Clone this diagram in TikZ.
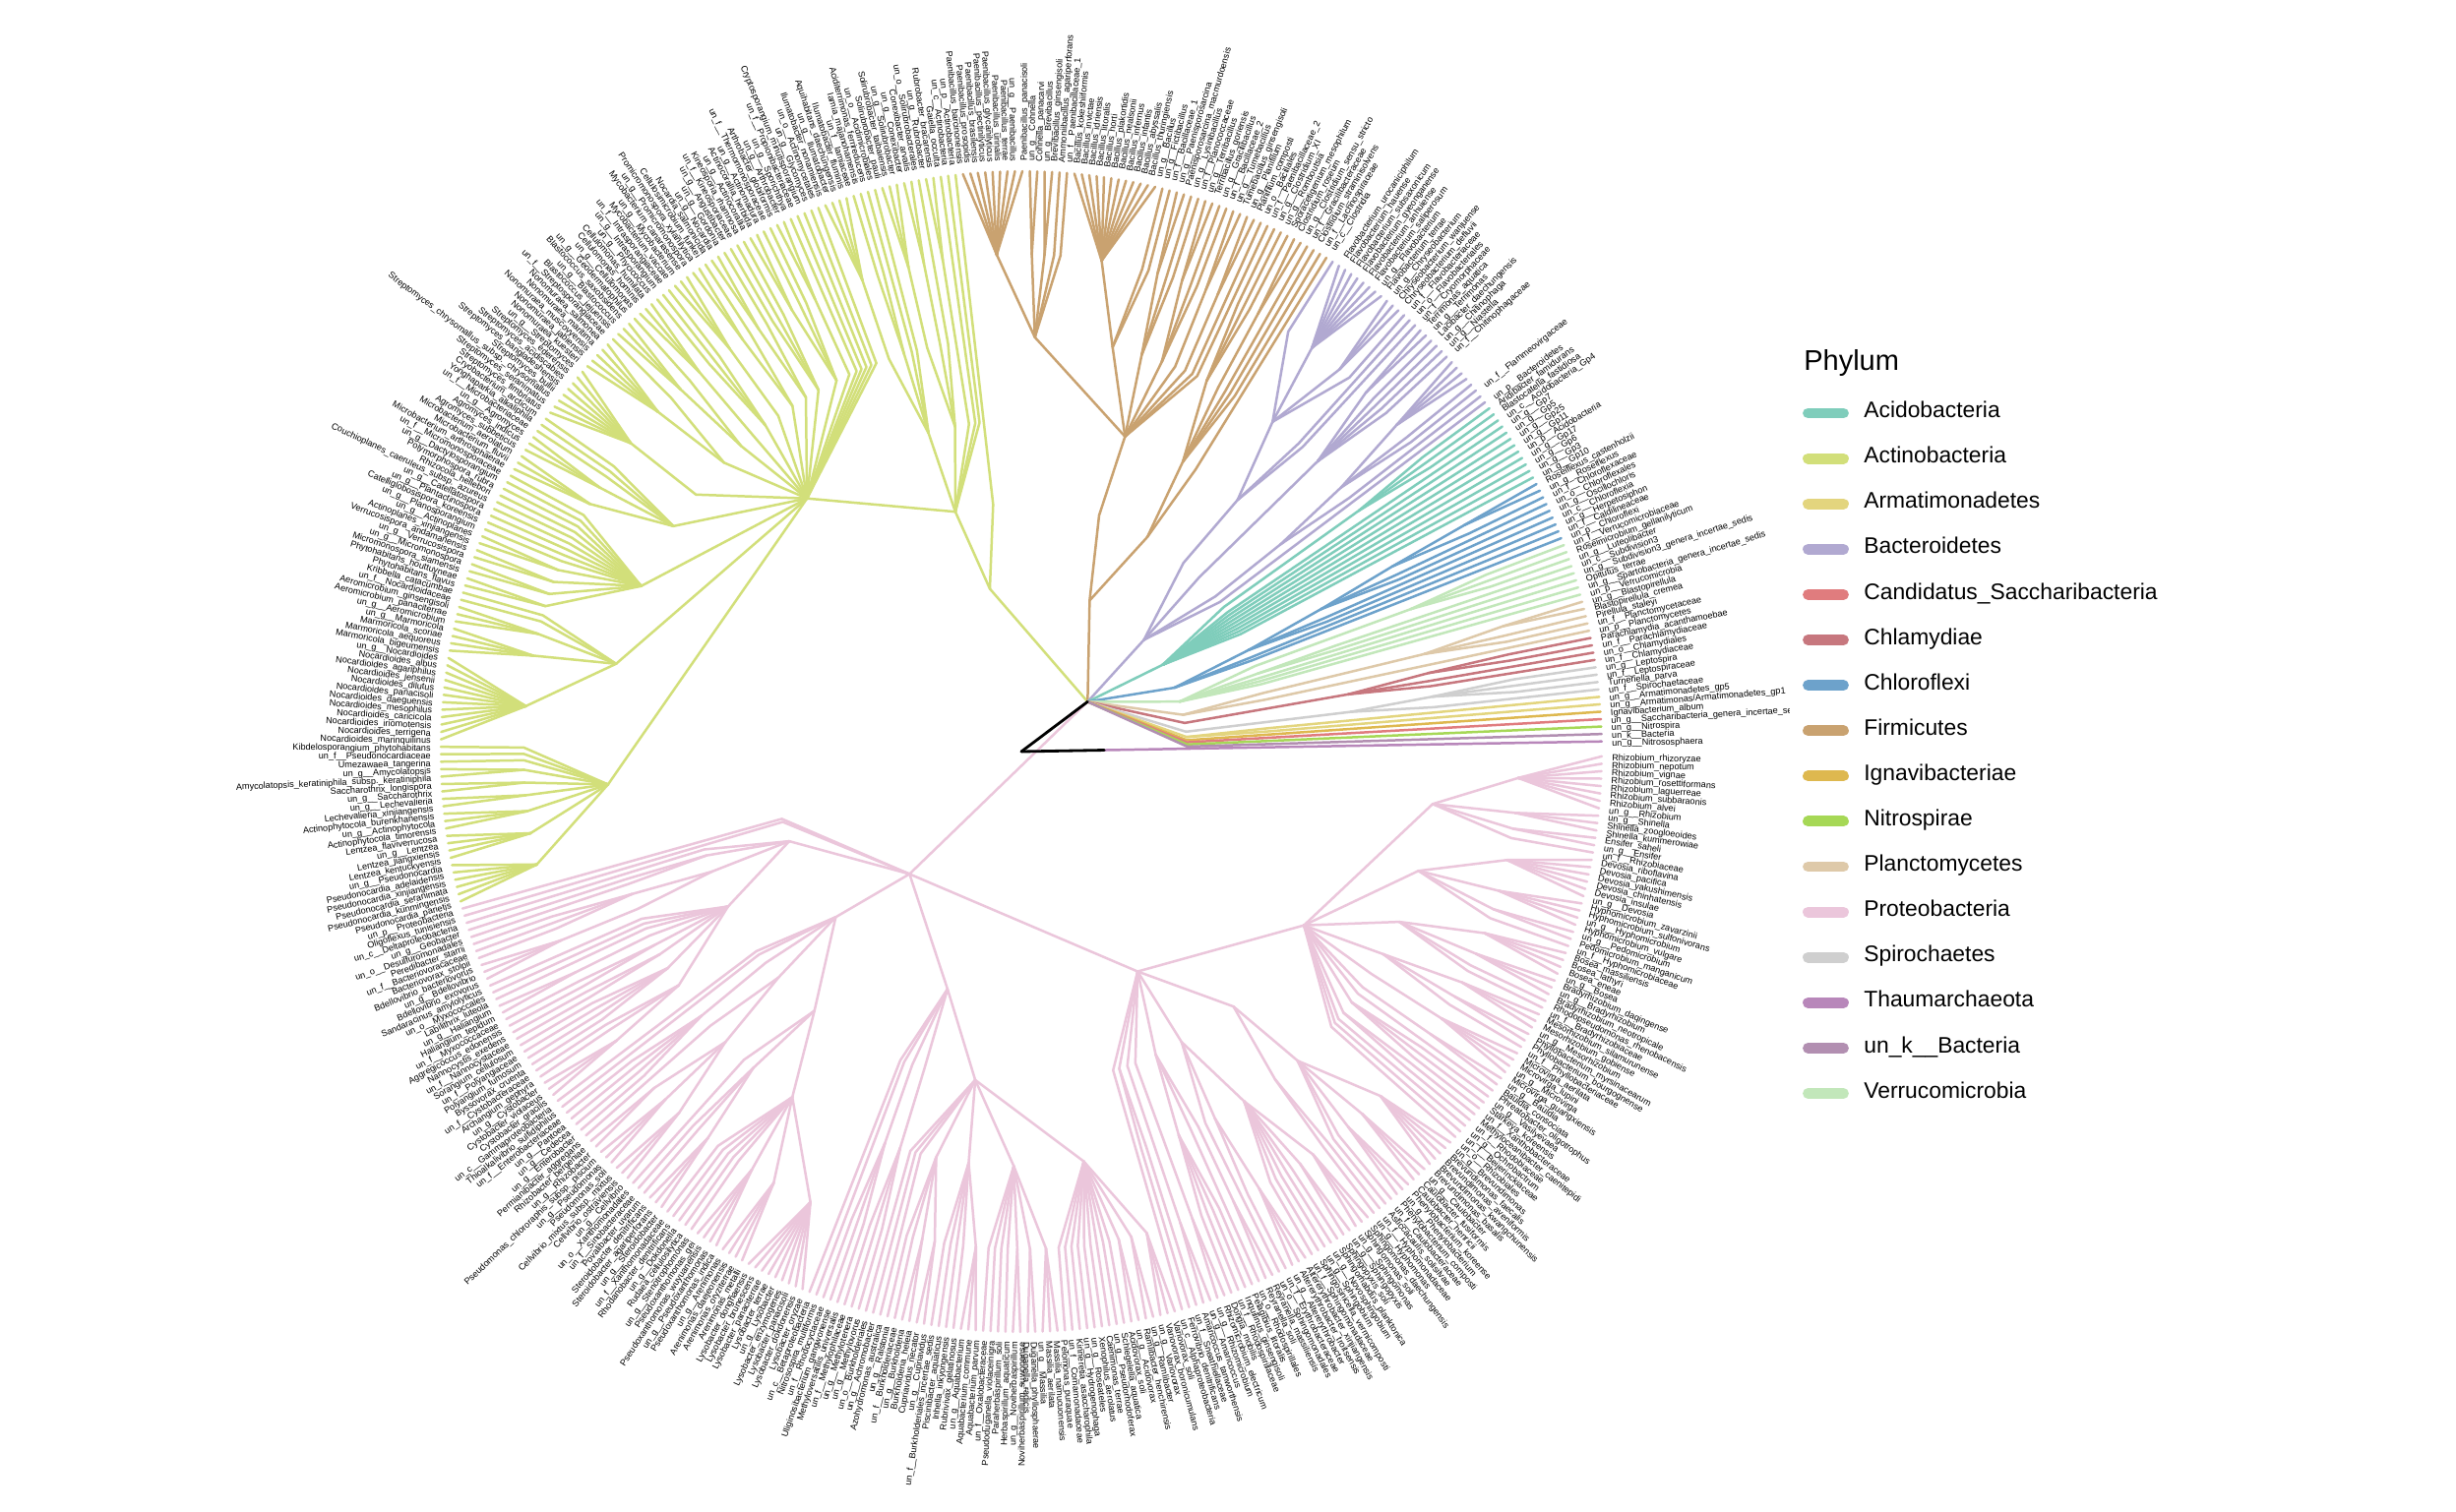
\documentclass[tikz,border=0pt]{standalone}
\usepackage{fontspec}
\setmainfont{Liberation Sans}

\definecolor{cAci}{HTML}{7FCDBB}
\definecolor{cAct}{HTML}{D2DF7A}
\definecolor{cArm}{HTML}{E3D57E}
\definecolor{cBac}{HTML}{B1A9D1}
\definecolor{cSac}{HTML}{E07C7E}
\definecolor{cChl}{HTML}{C7777E}
\definecolor{cClx}{HTML}{6DA2CB}
\definecolor{cFir}{HTML}{C9A270}
\definecolor{cIgn}{HTML}{DEB84F}
\definecolor{cNit}{HTML}{A6D856}
\definecolor{cPla}{HTML}{DEC9A9}
\definecolor{cPro}{HTML}{EBC6DB}
\definecolor{cSpi}{HTML}{CFCFCF}
\definecolor{cThm}{HTML}{B887BA}
\definecolor{cUnk}{HTML}{B28FB1}
\definecolor{cVer}{HTML}{C2E7BA}

% rank spacing and tip spacing
\newcommand{\lv}{84.2857}
\newcommand{\dA}{0.734694}
\newcommand{\ta}[1]{(1+(#1-1)*\dA)}
\newcommand{\nd}[3]{\coordinate (#1) at ({\ta{#2}}:{#3*\lv});}
\newcommand{\ch}[4]{\draw[#1] (#2) -- ({\ta{#3}}:{#4*\lv}) -- (t#3);}
\newcommand{\ek}[5]{\draw[#1] (#2) -- ({\ta{#3}}:{#4*\lv}) -- (#5);}
\newcommand{\ed}[3]{\draw[#1] (#2) -- (#3);}
\newcommand{\fa}[4]{\foreach \k in {#3,...,#4} {\draw[#1] (#2) -- (t\k);}}

\tikzset{
  branch/.style={line width=1.42pt,line cap=round,line join=round},
  lBlk/.style={branch,draw=black,line width=1.6pt},
  lAci/.style={branch,draw=cAci}, lAct/.style={branch,draw=cAct},
  lArm/.style={branch,draw=cArm}, lBac/.style={branch,draw=cBac},
  lSac/.style={branch,draw=cSac}, lChl/.style={branch,draw=cChl},
  lClx/.style={branch,draw=cClx}, lFir/.style={branch,draw=cFir},
  lIgn/.style={branch,draw=cIgn}, lNit/.style={branch,draw=cNit},
  lPla/.style={branch,draw=cPla}, lPro/.style={branch,draw=cPro},
  lSpi/.style={branch,draw=cSpi}, lThm/.style={branch,draw=cThm},
  lUnk/.style={branch,draw=cUnk}, lVer/.style={branch,draw=cVer},
  tiplab/.style={inner sep=0pt,font=\fontsize{5.2}{6}\selectfont},
  legtext/.style={inner sep=0pt,font=\fontsize{13}{15}\selectfont},
  legtitle/.style={inner sep=0pt,font=\fontsize{16.5}{19}\selectfont}
}

\begin{document}
\catcode`\_=12
\begin{tikzpicture}[x=0.02cm,y=0.02cm]
\fill[white] (-1038,-772) rectangle (1458,764);
\useasboundingbox (-1038,-772) rectangle (1458,764);

% tips and labels
\begin{scope}
\clip (-1040,-780) rectangle (780,770);
\foreach \lab [count=\i] in {
un_g__Nitrososphaera,un_k__Bacteria,un_g__Nitrospira,un_g__Saccharibacteria_genera_incertae_sedis,Ignavibacterium_album,
{un_g__Armatimonas/Armatimonadetes_gp1},un_g__Armatimonadetes_gp5,
un_f__Spirochaetaceae,Turneriella_parva,un_f__Leptospiraceae,un_g__Leptospira,
un_f__Chlamydiaceae,un_o__Chlamydiales,un_f__Parachlamydiaceae,Parachlamydia_acanthamoebae,
un_p__Planctomycetes,un_f__Planctomycetaceae,Pirellula_staleyi,Blastopirellula_cremea,un_g__Blastopirellula,
un_p__Verrucomicrobia,un_g__Spartobacteria_genera_incertae_sedis,Opitutus_terrae,un_g__Subdivision3_genera_incertae_sedis,un_c__Subdivision3,un_g__Luteolibacter,Roseimicrobium_gellanilyticum,un_f__Verrucomicrobiaceae,
un_p__Chloroflexi,un_f__Caldilineaceae,un_g__Herpetosiphon,un_c__Chloroflexia,un_g__Oscillochloris,un_o__Chloroflexales,un_f__Chloroflexaceae,un_g__Roseiflexus,Roseiflexus_castenholzii,
un_g__Gp10,un_g__Gp3,un_g__Gp6,un_g__Gp17,un_p__Acidobacteria,un_g__Gp11,un_g__Gp25,un_g__Gp5,un_g__Gp7,un_c__Acidobacteria_Gp4,Blastocatella_fastidiosa,Aridibacter_famidurans,
un_p__Bacteroidetes,{},un_f__Flammeovirgaceae,{},{},{},{},{},
un_f__Chitinophagaceae,un_g__Niastella,un_g__Chitinophaga,Lacibacter_daechungensis,un_g__Terrimonas,Terrimonas_aquatica,
un_f__Cryomorphaceae,un_o__Flavobacteriales,un_f__Flavobacteriaceae,Chryseobacterium_defluvii,Chryseobacterium_wanjuense,un_g__Chryseobacterium,
Flavobacterium_terrae,un_g__Flavobacterium,Flavobacterium_saliperosum,Flavobacterium_anhuiense,Flavobacterium_gyeonganense,Flavobacterium_subsaxonicum,Flavobacterium_hauense,Flavobacterium_urocaniciphilum,{},
un_c__Clostridia,un_f__Lachnospiraceae,Clostridium_straminisolvens,un_f__Gracilibacteraceae,un_g__Clostridium_sensu_stricto,Clostridium_roseum,Sporacetigenium_mesophilum,un_g__Romboutsia,un_g__Clostridium_XI,
un_f__Paenibacillaceae_2,un_o__Bacillales,Planifilum_composti,un_g__Planifilum,Tumebacillus_ginsengisoli,un_g__Tumebacillus,un_f__Bacillaceae_2,un_g__Gracilibacillus,Terribacillus_goriensis,un_g__Terribacillus,
un_f__Planococcaceae,un_g__Lysinibacillus,Paenisporosarcina_macmurdoensis,un_g__Paenisporosarcina,un_f__Bacillaceae_1,un_g__Fictibacillus,un_g__Bacillus,Bacillus_thuringiensis,Bacillus_abyssalis,Bacillus_infantis,
Bacillus_infernus,Bacillus_nealsonii,Bacillus_plakortidis,Bacillus_horti,Bacillus_litoralis,Bacillus_idriensis,Bacillus_invictae,Bacillus_kokeshiiformis,un_f__Paenibacillaceae_1,Ammoniibacillus_agariperforans,
Brevibacillus_ginsengisoli,un_g__Brevibacillus,Cohnella_panacarvi,un_g__Cohnella,Paenibacillus_panacisoli,un_g__Paenibacillus,Paenibacillus_terrae,Paenibacillus_urinalis,Paenibacillus_glycanilyticus,Paenibacillus_pectinilyticus,
Paenibacillus_brasilensis,Paenibacillus_prosopidis,Paenibacillus_barcinonensis,
un_p__Actinobacteria,un_c__Actinobacteria,Gaiella_occulta,Rubrobacter_bracarensis,un_g__Rubrobacter,un_o__Solirubrobacterales,Conexibacter_arvalis,un_g__Conexibacter,un_g__Solirubrobacter,Solirubrobacter_taibaiensis,
Solirubrobacter_pauli,un_o__Acidimicrobiales,Aciditerrimonas_ferrireducens,Iamia_majanohamensis,un_f__Iamiaceae,Ilumatobacter_fluminis,Aquihabitans_daechungensis,un_g__Ilumatobacter,Ilumatobacter_nonamiensis,un_o__Actinomycetales,
un_g__Glycomyces,Cryptosporangium_minutisporangium,un_f__Propionibacteriaceae,un_g__Sporichthya,un_g__Arthrobacter,Arthrobacter_globiformis,un_f__Thermomonosporaceae,un_g__Actinomadura,Actinocorallia_herbida,un_g__Actinocorallia,
Kineosporia_rhamnosa,un_f__Kineosporiaceae,un_g__Angustibacter,un_g__Gordonia,un_g__Nocardia,Nocardia_salmonicida,Cellulosimicrobium_funkei,Promicromonospora_xylanilytica,un_g__Promicromonospora,Mycobacterium_canariasense,
un_g__Mycobacterium,Mycobacterium_vaccae,un_f__Intrasporangiaceae,un_g__Intrasporangium,un_g__Phycicoccus,Cellulomonas_humilata,Cellulomonas_hominis,un_g__Cellulomonas,un_g__Geodermatophilus,Blastococcus_saxobsidens,
un_g__Blastococcus,Blastococcus_jejuensis,un_f__Streptosporangiaceae,Nonomuraea_salmonea,Nonomuraea_maritima,Nonomuraea_muscovyensis,Nonomuraea_jabiensis,Nonomuraea_kuesteri,un_g__Streptomyces,Streptomyces_ederensis,
Streptomyces_acidiscabies,Streptomyces_bangladeshensis,Streptomyces_bullii,Streptomyces_chrysomallus_subsp._chrysomallus,Streptomyces_seranimatus,Streptomyces_fimbriatus,Cryobacterium_arcticum,Yonghaparkia_alkaliphila,un_f__Microbacteriaceae,un_g__Agromyces,
Agromyces_indicus,Agromyces_subbeticus,Microbacterium_aerolatum,Microbacterium_fluvii,Microbacterium_arthrosphaerae,un_f__Micromonosporaceae,un_g__Dactylosporangium,Polymorphospora_rubra,Rhizocola_hellebori,Couchioplanes_caeruleus_subsp._azureus,
un_g__Catellatospora,un_g__Plantactinospora,Catelliglobosispora_koreensis,un_g__Planosporangium,un_g__Actinoplanes,Actinoplanes_xinjiangensis,Verrucosispora_andamanensis,un_g__Verrucosispora,un_g__Micromonospora,Micromonospora_siamensis,
Phytohabitans_houttuyneae,Phytohabitans_flavus,Kribbella_catacumbae,un_f__Nocardioidaceae,Aeromicrobium_ginsengisoli,Aeromicrobium_panaciterrae,un_g__Aeromicrobium,un_g__Marmoricola,Marmoricola_scoriae,Marmoricola_aequoreus,
Marmoricola_bigeumensis,un_g__Nocardioides,Nocardioides_albus,Nocardioides_agariphilus,Nocardioides_jensenii,Nocardioides_dilutus,Nocardioides_panacisoli,Nocardioides_daeguensis,Nocardioides_mesophilus,Nocardioides_caricicola,
Nocardioides_iriomotensis,Nocardioides_terrigena,Nocardioides_marinquilinus,Kibdelosporangium_phytohabitans,un_f__Pseudonocardiaceae,Umezawaea_tangerina,un_g__Amycolatopsis,Amycolatopsis_keratiniphila_subsp._keratiniphila,Saccharothrix_longispora,un_g__Saccharothrix,
un_g__Lechevalieria,Lechevalieria_xinjiangensis,Actinophytocola_burenkhanensis,un_g__Actinophytocola,Actinophytocola_timorensis,Lentzea_flaviverrucosa,un_g__Lentzea,Lentzea_jiangxiensis,Lentzea_kentuckyensis,un_g__Pseudonocardia,
Pseudonocardia_adelaidensis,Pseudonocardia_xinjiangensis,Pseudonocardia_seranimata,Pseudonocardia_kunmingensis,Pseudonocardia_parietis,
un_p__Proteobacteria,Oligoflexus_tunisiensis,un_c__Deltaproteobacteria,un_g__Geobacter,un_o__Desulfuromonadales,Peredibacter_starrii,un_f__Bacteriovoracaceae,Bacteriovorax_stolpii,Bdellovibrio_bacteriovorus,un_g__Bdellovibrio,
Bdellovibrio_exovorus,Sandaracinus_amylolyticus,un_o__Myxococcales,Labilithrix_luteola,un_g__Haliangium,Haliangium_tepidum,un_f__Myxococcaceae,Aggregicoccus_edonensis,Nannocystis_exedens,un_f__Nannocystaceae,
Sorangium_cellulosum,un_f__Polyangiaceae,Polyangium_fumosum,Byssovorax_cruenta,un_f__Cystobacteraceae,Archangium_gephyra,un_g__Cystobacter,Cystobacter_violaceus,Cystobacter_gracilis,un_c__Gammaproteobacteria,
Thioalkalivibrio_sulfidiphilus,un_f__Enterobacteriaceae,un_g__Pantoea,un_g__Cedecea,un_g__Enterobacter,Permianibacter_aggregans,Rhizobacter_bergeniae,un_g__Rhizobacter,Pseudomonas_chlororaphis_subsp._piscium,un_g__Pseudomonas,
Pseudomonas_soli,Cellvibrio_mixtus_subsp._mixtus,Cellvibrio_ostraviensis,un_g__Cellvibrio,un_o__Xanthomonadales,un_f__Sinobacteraceae,Povalibacter_uvarum,Steroidobacter_denitrificans,Steroidobacter_agariperforans,un_g__Steroidobacter,
un_f__Xanthomonadaceae,Rhodanobacter_denitrificans,un_g__Dokdonella,Rudaea_cellulosilytica,un_g__Stenotrophomonas,Pseudoxanthomonas_gei,Pseudoxanthomonas_wuyuanensis,un_g__Pseudoxanthomonas,Pseudoxanthomonas_indica,un_g__Arenimonas,
Arenimonas_daejeonensis,Arenimonas_oryziterrae,Arenimonas_metalli,Lysobacter_donghaensis,Lysobacter_brunescens,Lysobacter_panaciterrae,Lysobacter_terrae,un_g__Lysobacter,Lysobacter_enzymogenes,Lysobacter_panacisoli,
Lysobacter_dokdonensis,Lysobacter_oryzae,un_c__Betaproteobacteria,Nitrosospira_multiformis,un_f__Rhodocyclaceae,Uliginosibacterium_gangwonense,Methyloversatilis_universalis,un_f__Methylophilaceae,un_g__Methylotenera,un_g__Methylovorus,
un_o__Burkholderiales,un_g__Achromobacter,Azohydromonas_australica,un_g__Ralstonia,un_f__Burkholderiaceae,un_g__Burkholderia,Burkholderia_heleia,Cupriavidus_necator,un_g__Cupriavidus,un_f__Burkholderiales_incertae_sedis,
Piscinibacter_aquaticus,Inhella_inkyongensis,Rubrivivax_gelatinosus,un_g__Aquabacterium,Aquabacterium_commune,Aquabacterium_parvum,un_f__Oxalobacteraceae,Pseudoduganella_violaceinigra,Paraherbaspirillum_soli,Herbaspirillum_aquaticum,
un_g__Noviherbaspirillum,Noviherbaspirillum_suwonense,Duganella_radicis,Duganella_phyllosphaerae,un_g__Massilia,Massilia_aerilata,Massilia_namucuonensis,Pelomonas_puraquae,un_f__Comamonadaceae,Kinneretia_asaccharophila,
un_g__Hydrogenophaga,un_g__Roseateles,Xenophilus_aerolatus,Caenimonas_terrae,un_g__Pseudorhodoferax,Schlegelella_aquatica,Acidovorax_soli,un_g__Acidovorax,Ramlibacter_henchirensis,un_g__Ramlibacter,
un_g__Variovorax,Variovorax_boronicumulans,Variovorax_soli,un_c__Alphaproteobacteria,Ferrovibrio_denitrificans,un_f__Sneathiellaceae,Amaricoccus_tamworthensis,un_g__Amaricoccus,un_g__Rhizomicrobium,Rhizomicrobium_electricum,
Dongia_mobilis,un_f__Rhodospirillaceae,Inquilinus_ginsengisoli,Pelagibius_litoralis,un_o__Rhodospirillales,Reyranella_soli,Reyranella_massiliensis,un_o__Sphingomonadales,un_f__Erythrobacteraceae,un_g__Altererythrobacter,
Altererythrobacter_troitsensis,Altererythrobacter_xinjiangensis,un_f__Sphingomonadaceae,Sphingosinicella_vermicomposti,un_g__Sphingobium,un_g__Novosphingobium,Sphingorhabdus_planktonica,Sphingopyxis_soli,un_g__Sphingopyxis,un_g__Sphingomonas,
Sphingomonas_soli,Sphingomonas_daechungensis,un_g__Hyphomonas,un_f__Hyphomonadaceae,Asticcacaulis_solisilvae,un_f__Caulobacteraceae,Phenylobacterium_composti,un_g__Phenylobacterium,Phenylobacterium_koreense,Caulobacter_henricii,
Caulobacter_fusiformis,un_g__Caulobacter,Brevundimonas_basalis,Brevundimonas_kwangchunensis,Brevundimonas_aveniformis,Brevundimonas_faecalis,un_g__Brevundimonas,un_o__Rhizobiales,un_f__Beijerinckiaceae,un_g__Ochrobactrum,
un_f__Rhodobiaceae,Methyloceanibacter_caenitepidi,un_f__Xanthobacteraceae,Starkeya_koreensis,un_g__Vasilyevaea,Phreatobacter_oligotrophus,Bauldia_consociata,un_g__Bauldia,Microvirga_guangxiensis,un_g__Microvirga,
Microvirga_lupini,Microvirga_aerilata,un_f__Phyllobacteriaceae,Phyllobacterium_bourgognense,Phyllobacterium_myrsinacearum,un_g__Mesorhizobium,Mesorhizobium_gobiense,Mesorhizobium_silamurunense,un_f__Bradyrhizobiaceae,Rhodopseudomonas_rhenobacensis,
Bradyrhizobium_neotropicale,un_g__Bradyrhizobium,Bradyrhizobium_daqingense,un_g__Bosea,Bosea_eneae,Bosea_lathyri,Bosea_massiliensis,un_f__Hyphomicrobiaceae,Pedomicrobium_manganicum,un_g__Pedomicrobium,
Hyphomicrobium_vulgare,un_g__Hyphomicrobium,Hyphomicrobium_sulfonivorans,Hyphomicrobium_zavarzinii,un_g__Devosia,Devosia_insulae,Devosia_chinhatensis,Devosia_yakushimensis,Devosia_pacifica,Devosia_riboflavina,
un_f__Rhizobiaceae,un_g__Ensifer,Ensifer_saheli,Shinella_kummerowiae,Shinella_zoogloeoides,un_g__Shinella,un_g__Rhizobium,Rhizobium_alvei,Rhizobium_subbaraonis,Rhizobium_laguerreae,
Rhizobium_rosettiformans,Rhizobium_vignae,Rhizobium_nepotum,Rhizobium_rhizoryzae}{
  \pgfmathsetmacro{\ang}{1+(\i-1)*\dA}
  \coordinate (t\i) at (\ang:590);
  \pgfmathtruncatemacro{\lft}{(\ang>90)&&(\ang<270)}
  \ifnum\lft=1
    \node[tiplab,anchor=mid east,rotate=\ang-180] (lab\i) at (\ang:600) {\lab};
  \else
    \node[tiplab,anchor=mid west,rotate=\ang] (lab\i) at (\ang:600) {\lab};
  \fi
}
\end{scope}

\coordinate (root) at (0,0);
\nd{kA}{1}{1}
\nd{kB}{49.94}{1}

% Proteobacteria
\nd{pPro}{309.42}{2} \ed{lPro}{kB}{pPro}
\ch{lPro}{pPro}{266}{3} \ch{lPro}{pPro}{267}{3}
\nd{cDel}{273.39}{3} \ed{lPro}{pPro}{cDel} \ch{lPro}{cDel}{268}{4}
\nd{oDsf}{269.5}{4} \ed{lPro}{cDel}{oDsf} \ch{lPro}{oDsf}{269}{5} \ch{lPro}{oDsf}{270}{5}
\nd{oBdv}{273.5}{4} \ed{lPro}{cDel}{oBdv} \nd{fBvr}{272}{5} \ed{lPro}{oBdv}{fBvr}
\foreach \k in {271,272,273} {\ch{lPro}{fBvr}{\k}{6}}
\nd{gBdv}{275}{6} \ek{lPro}{oBdv}{275}{5}{gBdv} \fa{lPro}{gBdv}{274}{276}
\nd{oMyx}{282.54}{4} \ed{lPro}{cDel}{oMyx}
\foreach \k in {277,278,279} {\ch{lPro}{oMyx}{\k}{5}}
\nd{gHal}{280.5}{6} \ek{lPro}{oMyx}{280.5}{5}{gHal} \fa{lPro}{gHal}{280}{281}
\nd{fMyx}{282.5}{5} \ed{lPro}{oMyx}{fMyx} \ch{lPro}{fMyx}{282}{6} \ch{lPro}{fMyx}{283}{6}
\nd{fNan}{284.5}{5} \ed{lPro}{oMyx}{fNan} \ch{lPro}{fNan}{284}{6} \ch{lPro}{fNan}{285}{6}
\nd{fPol}{287.5}{5} \ed{lPro}{oMyx}{fPol} \foreach \k in {286,...,289} {\ch{lPro}{fPol}{\k}{6}}
\nd{fCys}{291.33}{5} \ed{lPro}{oMyx}{fCys} \ch{lPro}{fCys}{290}{6} \ch{lPro}{fCys}{291}{6}
\nd{gCys}{293}{6} \ed{lPro}{fCys}{gCys} \fa{lPro}{gCys}{292}{294}
\nd{cGam}{301.44}{3} \ed{lPro}{pPro}{cGam} \ch{lPro}{cGam}{295}{4} \ch{lPro}{cGam}{296}{4}
\nd{fEnt}{298.5}{5} \ek{lPro}{cGam}{298.5}{4}{fEnt} \foreach \k in {297,...,300} {\ch{lPro}{fEnt}{\k}{6}}
\nd{oPse}{303.08}{4} \ed{lPro}{cGam}{oPse} \ch{lPro}{oPse}{301}{5}
\nd{fPse}{305.17}{5} \ed{lPro}{oPse}{fPse}
\nd{gRhb}{302.5}{6} \ed{lPro}{fPse}{gRhb} \fa{lPro}{gRhb}{302}{303}
\nd{gPse}{305}{6} \ed{lPro}{fPse}{gPse} \fa{lPro}{gPse}{304}{306}
\nd{gCvb}{308}{6} \ed{lPro}{fPse}{gCvb} \fa{lPro}{gCvb}{307}{309}
\nd{oXan}{314.61}{4} \ed{lPro}{cGam}{oXan} \ch{lPro}{oXan}{310}{5}
\nd{fSin}{312.33}{5} \ed{lPro}{oXan}{fSin} \ch{lPro}{fSin}{311}{6} \ch{lPro}{fSin}{312}{6}
\nd{gSte}{314}{6} \ed{lPro}{fSin}{gSte} \fa{lPro}{gSte}{313}{315}
\nd{fXan}{321.5}{5} \ed{lPro}{oXan}{fXan} \foreach \k in {316,...,320} {\ch{lPro}{fXan}{\k}{6}}
\nd{gPsx}{322.5}{6} \ed{lPro}{fXan}{gPsx} \fa{lPro}{gPsx}{321}{324}
\nd{gAre}{326.5}{6} \ed{lPro}{fXan}{gAre} \fa{lPro}{gAre}{325}{328}
\nd{gLys}{333}{6} \ed{lPro}{fXan}{gLys} \fa{lPro}{gLys}{329}{337}
\nd{cBet}{343.65}{3} \ed{lPro}{pPro}{cBet} \ch{lPro}{cBet}{338}{4} \ch{lPro}{cBet}{339}{4}
\nd{fRcy}{341}{5} \ek{lPro}{cBet}{341}{4}{fRcy} \foreach \k in {340,341,342} {\ch{lPro}{fRcy}{\k}{6}}
\nd{fMph}{344}{5} \ek{lPro}{cBet}{344}{4}{fMph} \foreach \k in {343,344,345} {\ch{lPro}{fMph}{\k}{6}}
\nd{oBur}{356.26}{4} \ed{lPro}{cBet}{oBur} \foreach \k in {346,347,348} {\ch{lPro}{oBur}{\k}{5}}
\nd{fBur}{351}{5} \ed{lPro}{oBur}{fBur} \ch{lPro}{fBur}{349}{6} \ch{lPro}{fBur}{350}{6}
\nd{gBur}{351.5}{6} \ed{lPro}{fBur}{gBur} \fa{lPro}{gBur}{351}{352}
\nd{gCup}{353.5}{6} \ed{lPro}{fBur}{gCup} \fa{lPro}{gCup}{353}{354}
\nd{fBis}{357.2}{5} \ed{lPro}{oBur}{fBis} \foreach \k in {355,...,358} {\ch{lPro}{fBis}{\k}{6}}
\nd{gAqu}{360}{6} \ed{lPro}{fBis}{gAqu} \fa{lPro}{gAqu}{359}{361}
\nd{fOxa}{365.71}{5} \ed{lPro}{oBur}{fOxa} \foreach \k in {362,...,365} {\ch{lPro}{fOxa}{\k}{6}}
\nd{gNov}{366.5}{6} \ed{lPro}{fOxa}{gNov} \fa{lPro}{gNov}{366}{367}
\nd{gDug}{368.5}{6} \ed{lPro}{fOxa}{gDug} \fa{lPro}{gDug}{368}{369}
\nd{gMas}{371}{6} \ed{lPro}{fOxa}{gMas} \fa{lPro}{gMas}{370}{372}
\nd{fCom}{378.92}{5} \ed{lPro}{oBur}{fCom} \foreach \k in {373,...,381} {\ch{lPro}{fCom}{\k}{6}}
\nd{gAcv}{382.5}{6} \ed{lPro}{fCom}{gAcv} \fa{lPro}{gAcv}{382}{383}
\nd{gRam}{384.5}{6} \ed{lPro}{fCom}{gRam} \fa{lPro}{gRam}{384}{385}
\nd{gVar}{387}{6} \ed{lPro}{fCom}{gVar} \fa{lPro}{gVar}{386}{388}
\nd{cAlp}{405.06}{3} \ed{lPro}{pPro}{cAlp} \ch{lPro}{cAlp}{389}{4}
\nd{oSne}{390.5}{4} \ed{lPro}{cAlp}{oSne} \ch{lPro}{oSne}{390}{5} \ch{lPro}{oSne}{391}{5}
\nd{gAma}{392.5}{6} \ek{lPro}{cAlp}{392.5}{4}{gAma} \fa{lPro}{gAma}{392}{393}
\nd{gRhm}{394.5}{6} \ek{lPro}{cAlp}{394.5}{4}{gRhm} \fa{lPro}{gRhm}{394}{395}
\nd{oRsp}{399.67}{4} \ed{lPro}{cAlp}{oRsp} \nd{fRsp}{397.5}{5} \ed{lPro}{oRsp}{fRsp}
\foreach \k in {396,...,399} {\ch{lPro}{fRsp}{\k}{6}} \ch{lPro}{oRsp}{400}{5}
\nd{gRey}{401.5}{6} \ek{lPro}{oRsp}{401.5}{5}{gRey} \fa{lPro}{gRey}{401}{402}
\nd{oSph}{406.45}{4} \ed{lPro}{cAlp}{oSph} \ch{lPro}{oSph}{403}{5}
\nd{fEry}{405}{5} \ed{lPro}{oSph}{fEry} \ch{lPro}{fEry}{404}{6}
\nd{gAlt}{406}{6} \ed{lPro}{fEry}{gAlt} \fa{lPro}{gAlt}{405}{407}
\nd{fSph}{411.36}{5} \ed{lPro}{oSph}{fSph} \foreach \k in {408,...,412} {\ch{lPro}{fSph}{\k}{6}}
\nd{gSpx}{413.5}{6} \ed{lPro}{fSph}{gSpx} \fa{lPro}{gSpx}{413}{414}
\nd{gSpm}{416}{6} \ed{lPro}{fSph}{gSpm} \fa{lPro}{gSpm}{415}{417}
\nd{oCau}{421.25}{4} \ed{lPro}{cAlp}{oCau}
\nd{fHyp}{418.5}{5} \ed{lPro}{oCau}{fHyp} \ch{lPro}{fHyp}{418}{6} \ch{lPro}{fHyp}{419}{6}
\nd{fCau}{424}{5} \ed{lPro}{oCau}{fCau} \ch{lPro}{fCau}{420}{6} \ch{lPro}{fCau}{421}{6}
\nd{gPhe}{423}{6} \ed{lPro}{fCau}{gPhe} \fa{lPro}{gPhe}{422}{424}
\nd{gCau}{426}{6} \ed{lPro}{fCau}{gCau} \fa{lPro}{gCau}{425}{427}
\nd{gBvd}{430}{6} \ed{lPro}{fCau}{gBvd} \fa{lPro}{gBvd}{428}{432}
\nd{oRhz}{446.63}{4} \ed{lPro}{cAlp}{oRhz} \foreach \k in {433,434,435,441} {\ch{lPro}{oRhz}{\k}{5}}
\nd{fRhb}{436.5}{5} \ed{lPro}{oRhz}{fRhb} \ch{lPro}{fRhb}{436}{6} \ch{lPro}{fRhb}{437}{6}
\nd{fXnt}{439}{5} \ed{lPro}{oRhz}{fXnt} \foreach \k in {438,439,440} {\ch{lPro}{fXnt}{\k}{6}}
\nd{gBau}{442.5}{6} \ek{lPro}{oRhz}{442.5}{5}{gBau} \fa{lPro}{gBau}{442}{443}
\nd{gMcv}{445.5}{6} \ek{lPro}{oRhz}{445.5}{5}{gMcv} \fa{lPro}{gMcv}{444}{447}
\nd{fPhy}{449.83}{5} \ed{lPro}{oRhz}{fPhy} \ch{lPro}{fPhy}{448}{6}
\nd{gPhl}{449.5}{6} \ed{lPro}{fPhy}{gPhl} \fa{lPro}{gPhl}{449}{450}
\nd{gMes}{452}{6} \ed{lPro}{fPhy}{gMes} \fa{lPro}{gMes}{451}{453}
\nd{fBra}{456.63}{5} \ed{lPro}{oRhz}{fBra} \ch{lPro}{fBra}{454}{6} \ch{lPro}{fBra}{455}{6}
\nd{gBra}{457}{6} \ed{lPro}{fBra}{gBra} \fa{lPro}{gBra}{456}{458}
\nd{gBos}{460.5}{6} \ed{lPro}{fBra}{gBos} \fa{lPro}{gBos}{459}{462}
\nd{fHym}{466.88}{5} \ed{lPro}{oRhz}{fHym} \ch{lPro}{fHym}{463}{6}
\nd{gPed}{464.5}{6} \ed{lPro}{fHym}{gPed} \fa{lPro}{gPed}{464}{465}
\nd{gHym}{467.5}{6} \ed{lPro}{fHym}{gHym} \fa{lPro}{gHym}{466}{469}
\nd{gDev}{472.5}{6} \ed{lPro}{fHym}{gDev} \fa{lPro}{gDev}{470}{475}
\nd{fRhi}{479.75}{5} \ed{lPro}{oRhz}{fRhi} \ch{lPro}{fRhi}{476}{6}
\nd{gEns}{477.5}{6} \ed{lPro}{fRhi}{gEns} \fa{lPro}{gEns}{477}{478}
\nd{gShi}{480}{6} \ed{lPro}{fRhi}{gShi} \fa{lPro}{gShi}{479}{481}
\nd{gRhi}{485.5}{6} \ed{lPro}{fRhi}{gRhi} \fa{lPro}{gRhi}{482}{489}

% Actinobacteria
\nd{pAct}{137.04}{2} \ed{lAct}{kB}{pAct} \ch{lAct}{pAct}{131}{3}
\nd{cAct}{143.08}{3} \ed{lAct}{pAct}{cAct} \ch{lAct}{cAct}{132}{4} \ch{lAct}{cAct}{133}{4}
\nd{gRub}{134.5}{6} \ek{lAct}{cAct}{134.5}{4}{gRub} \fa{lAct}{gRub}{134}{135}
\nd{oSol}{137.83}{4} \ed{lAct}{cAct}{oSol} \ch{lAct}{oSol}{136}{5}
\nd{gCon}{137.5}{6} \ek{lAct}{oSol}{137.5}{5}{gCon} \fa{lAct}{gCon}{137}{138}
\nd{gSol}{140}{6} \ek{lAct}{oSol}{140}{5}{gSol} \fa{lAct}{gSol}{139}{141}
\nd{oAcm}{144.25}{4} \ed{lAct}{cAct}{oAcm} \ch{lAct}{oAcm}{142}{5} \ch{lAct}{oAcm}{143}{5}
\nd{fIam}{144.5}{5} \ed{lAct}{oAcm}{fIam} \ch{lAct}{fIam}{144}{6} \ch{lAct}{fIam}{145}{6}
\nd{gIlu}{147.5}{6} \ek{lAct}{oAcm}{147.5}{5}{gIlu} \fa{lAct}{gIlu}{146}{149}
\nd{oAmy}{176.92}{4} \ed{lAct}{cAct}{oAmy}
\foreach \k in {150,...,154} {\ch{lAct}{oAmy}{\k}{5}}
\nd{gArt}{155.5}{6} \ek{lAct}{oAmy}{155.5}{5}{gArt} \fa{lAct}{gArt}{155}{156}
\nd{fThm}{158.17}{5} \ed{lAct}{oAmy}{fThm} \ch{lAct}{fThm}{157}{6} \ch{lAct}{fThm}{158}{6}
\nd{gAcc}{159.5}{6} \ed{lAct}{fThm}{gAcc} \fa{lAct}{gAcc}{159}{160}
\nd{fKin}{162}{5} \ed{lAct}{oAmy}{fKin} \foreach \k in {161,162,163} {\ch{lAct}{fKin}{\k}{6}}
\nd{fNca}{164.75}{5} \ed{lAct}{oAmy}{fNca} \ch{lAct}{fNca}{164}{6}
\nd{gNca}{165.5}{6} \ed{lAct}{fNca}{gNca} \fa{lAct}{gNca}{165}{166}
\nd{fPmm}{167.75}{5} \ed{lAct}{oAmy}{fPmm} \ch{lAct}{fPmm}{167}{6}
\nd{gPmm}{168.5}{6} \ed{lAct}{fPmm}{gPmm} \fa{lAct}{gPmm}{168}{169}
\nd{gMyc}{171}{6} \ek{lAct}{oAmy}{171}{5}{gMyc} \fa{lAct}{gMyc}{170}{172}
\nd{fInt}{174}{5} \ed{lAct}{oAmy}{fInt} \foreach \k in {173,174,175} {\ch{lAct}{fInt}{\k}{6}}
\nd{gCel}{177}{6} \ek{lAct}{oAmy}{177}{5}{gCel} \fa{lAct}{gCel}{176}{178}
\nd{fGeo}{180}{5} \ed{lAct}{oAmy}{fGeo} \ch{lAct}{fGeo}{179}{6}
\nd{gBlc}{181}{6} \ed{lAct}{fGeo}{gBlc} \fa{lAct}{gBlc}{180}{182}
\nd{fSsp}{184.5}{5} \ed{lAct}{oAmy}{fSsp} \ch{lAct}{fSsp}{183}{6}
\nd{gNon}{186}{6} \ed{lAct}{fSsp}{gNon} \fa{lAct}{gNon}{184}{188}
\nd{gStr}{192.5}{6} \ek{lAct}{oAmy}{192.5}{5}{gStr} \fa{lAct}{gStr}{189}{196}
\nd{fMcb}{199.8}{5} \ed{lAct}{oAmy}{fMcb} \foreach \k in {197,198,199} {\ch{lAct}{fMcb}{\k}{6}}
\nd{gAgr}{201}{6} \ed{lAct}{fMcb}{gAgr} \fa{lAct}{gAgr}{200}{202}
\nd{gMcb}{204}{6} \ed{lAct}{fMcb}{gMcb} \fa{lAct}{gMcb}{203}{205}
\nd{fMms}{212.6}{5} \ed{lAct}{oAmy}{fMms} \foreach \k in {206,...,214} {\ch{lAct}{fMms}{\k}{6}}
\nd{gAcp}{215.5}{6} \ed{lAct}{fMms}{gAcp} \fa{lAct}{gAcp}{215}{216}
\nd{gVrs}{217.5}{6} \ed{lAct}{fMms}{gVrs} \fa{lAct}{gVrs}{217}{218}
\nd{gMms}{219.5}{6} \ed{lAct}{fMms}{gMms} \fa{lAct}{gMms}{219}{220}
\nd{gPhh}{221.5}{6} \ed{lAct}{fMms}{gPhh} \fa{lAct}{gPhh}{221}{222}
\nd{fNcd}{228}{5} \ed{lAct}{oAmy}{fNcd} \ch{lAct}{fNcd}{223}{6} \ch{lAct}{fNcd}{224}{6}
\nd{gAer}{226}{6} \ed{lAct}{fNcd}{gAer} \fa{lAct}{gAer}{225}{227}
\nd{gMar}{229.5}{6} \ed{lAct}{fNcd}{gMar} \fa{lAct}{gMar}{228}{231}
\nd{gNcd}{237.5}{6} \ed{lAct}{fNcd}{gNcd} \fa{lAct}{gNcd}{232}{243}
\nd{fPsn}{250.83}{5} \ed{lAct}{oAmy}{fPsn} \foreach \k in {244,245,246} {\ch{lAct}{fPsn}{\k}{6}}
\nd{gAmy}{247.5}{6} \ed{lAct}{fPsn}{gAmy} \fa{lAct}{gAmy}{247}{248}
\nd{gSac}{249.5}{6} \ed{lAct}{fPsn}{gSac} \fa{lAct}{gSac}{249}{250}
\nd{gLec}{251.5}{6} \ed{lAct}{fPsn}{gLec} \fa{lAct}{gLec}{251}{252}
\nd{gApc}{254}{6} \ed{lAct}{fPsn}{gApc} \fa{lAct}{gApc}{253}{255}
\nd{gLen}{257.5}{6} \ed{lAct}{fPsn}{gLen} \fa{lAct}{gLen}{256}{259}
\nd{gPsn}{262.5}{6} \ed{lAct}{fPsn}{gPsn} \fa{lAct}{gPsn}{260}{265}

% Firmicutes
\nd{pFir}{89.05}{2} \ed{lFir}{kB}{pFir}
\nd{cClo}{80.75}{3} \ed{lFir}{pFir}{cClo} \ch{lFir}{cClo}{79}{4}
\nd{oClo}{82.5}{4} \ed{lFir}{cClo}{oClo} \foreach \k in {80,81,82} {\ch{lFir}{oClo}{\k}{5}}
\nd{gClo}{83.5}{6} \ek{lFir}{oClo}{83.5}{5}{gClo} \fa{lFir}{gClo}{83}{84}
\nd{fPep}{86}{5} \ed{lFir}{oClo}{fPep} \foreach \k in {85,86,87} {\ch{lFir}{fPep}{\k}{6}}
\nd{oBcl}{97.35}{4} \ek{lFir}{pFir}{97.35}{3}{oBcl} \ch{lFir}{oBcl}{88}{5} \ch{lFir}{oBcl}{89}{5}
\nd{gPlf}{90.5}{6} \ek{lFir}{oBcl}{90.5}{5}{gPlf} \fa{lFir}{gPlf}{90}{91}
\nd{gTum}{92.5}{6} \ek{lFir}{oBcl}{92.5}{5}{gTum} \fa{lFir}{gTum}{92}{93}
\nd{fBa2}{95.17}{5} \ed{lFir}{oBcl}{fBa2} \ch{lFir}{fBa2}{94}{6} \ch{lFir}{fBa2}{95}{6}
\nd{gTrb}{96.5}{6} \ed{lFir}{fBa2}{gTrb} \fa{lFir}{gTrb}{96}{97}
\nd{fPlc}{99.17}{5} \ed{lFir}{oBcl}{fPlc} \ch{lFir}{fPlc}{98}{6} \ch{lFir}{fPlc}{99}{6}
\nd{gPsr}{100.5}{6} \ed{lFir}{fPlc}{gPsr} \fa{lFir}{gPsr}{100}{101}
\nd{fBa1}{104.83}{5} \ed{lFir}{oBcl}{fBa1} \ch{lFir}{fBa1}{102}{6} \ch{lFir}{fBa1}{103}{6}
\nd{gBcl}{109.5}{6} \ed{lFir}{fBa1}{gBcl} \fa{lFir}{gBcl}{104}{115}
\nd{fPae}{119.6}{5} \ed{lFir}{oBcl}{fPae} \ch{lFir}{fPae}{116}{6} \ch{lFir}{fPae}{117}{6}
\nd{gBrb}{118.5}{6} \ed{lFir}{fPae}{gBrb} \fa{lFir}{gBrb}{118}{119}
\nd{gCoh}{120.5}{6} \ed{lFir}{fPae}{gCoh} \fa{lFir}{gCoh}{120}{121}
\nd{gPae}{126}{6} \ed{lFir}{fPae}{gPae} \fa{lFir}{gPae}{122}{130}

% Bacteroidetes
\nd{pBac}{57.29}{2} \ed{lBac}{kB}{pBac} \ch{lBac}{pBac}{50}{3}
\nd{oCyt}{52.25}{4} \ek{lBac}{pBac}{52.25}{3}{oCyt} \ch{lBac}{oCyt}{51}{5}
\nd{fFlm}{53.5}{5} \ed{lBac}{oCyt}{fFlm} \ch{lBac}{fFlm}{52}{6} \ch{lBac}{fFlm}{53}{6}
\nd{gOht}{55.5}{6} \ed{lBac}{fFlm}{gOht} \fa{lBac}{gOht}{54}{57}
\nd{fChi}{60.1}{5} \ek{lBac}{pBac}{60.1}{3}{fChi} \foreach \k in {58,...,61} {\ch{lBac}{fChi}{\k}{6}}
\nd{gTer}{62.5}{6} \ed{lBac}{fChi}{gTer} \fa{lBac}{gTer}{62}{63}
\nd{oFlv}{66.79}{4} \ek{lBac}{pBac}{66.79}{3}{oFlv} \ch{lBac}{oFlv}{64}{5} \ch{lBac}{oFlv}{65}{5}
\nd{fFlv}{71.38}{5} \ed{lBac}{oFlv}{fFlv} \ch{lBac}{fFlv}{66}{6} \ch{lBac}{fFlv}{78}{6}
\nd{gChr}{68}{6} \ed{lBac}{fFlv}{gChr} \fa{lBac}{gChr}{67}{69}
\nd{gFlv}{73.5}{6} \ed{lBac}{fFlv}{gFlv} \fa{lBac}{gFlv}{70}{77}

% Acidobacteria
\nd{pAci}{42.6}{2} \ed{lAci}{kB}{pAci}
\foreach \k in {38,...,46} {\ch{lAci}{pAci}{\k}{3}}
\nd{fGp4}{48}{5} \ek{lAci}{pAci}{48}{3}{fGp4} \foreach \k in {47,48,49} {\ch{lAci}{fGp4}{\k}{6}}

% Chloroflexi
\nd{pClx}{30.47}{2} \ed{lClx}{kB}{pClx} \ch{lClx}{pClx}{29}{3} \ch{lClx}{pClx}{30}{3}
\nd{cClx}{32.42}{3} \ed{lClx}{pClx}{cClx} \ch{lClx}{cClx}{31}{4} \ch{lClx}{cClx}{32}{4}
\nd{oClx}{34.25}{4} \ed{lClx}{cClx}{oClx} \ch{lClx}{oClx}{33}{5} \ch{lClx}{oClx}{34}{5}
\nd{fClx}{35.75}{5} \ed{lClx}{oClx}{fClx} \ch{lClx}{fClx}{35}{6}
\nd{gRsf}{36.5}{6} \ed{lClx}{fClx}{gRsf} \fa{lClx}{gRsf}{36}{37}

% Verrucomicrobia
\nd{pVer}{23.5}{2} \ed{lVer}{kB}{pVer} \foreach \k in {21,22,23} {\ch{lVer}{pVer}{\k}{3}}
\nd{cSub}{24.5}{3} \ed{lVer}{pVer}{cSub} \ch{lVer}{cSub}{24}{4} \ch{lVer}{cSub}{25}{4}
\nd{fVer}{27}{5} \ek{lVer}{pVer}{27}{3}{fVer} \foreach \k in {26,27,28} {\ch{lVer}{fVer}{\k}{6}}

% Planctomycetes
\nd{pPla}{17.08}{2} \ed{lPla}{kB}{pPla} \ch{lPla}{pPla}{16}{3}
\nd{fPla}{18.17}{5} \ek{lPla}{pPla}{18.17}{3}{fPla} \ch{lPla}{fPla}{17}{6} \ch{lPla}{fPla}{18}{6}
\nd{gBlp}{19.5}{6} \ed{lPla}{fPla}{gBlp} \fa{lPla}{gBlp}{19}{20}

% Chlamydiae
\nd{pChl}{13.17}{2} \nd{oChl}{13.17}{4} \ed{lChl}{kB}{pChl} \ed{lChl}{pChl}{oChl}
\ch{lChl}{oChl}{12}{5} \ch{lChl}{oChl}{13}{5}
\nd{fPar}{14.5}{5} \ed{lChl}{oChl}{fPar} \ch{lChl}{fPar}{14}{6} \ch{lChl}{fPar}{15}{6}

% Spirochaetes
\nd{pSpi}{9}{2} \nd{oSpi}{9}{4} \ed{lSpi}{kB}{pSpi} \ed{lSpi}{pSpi}{oSpi} \ch{lSpi}{oSpi}{8}{5}
\nd{fLep}{10}{5} \ed{lSpi}{oSpi}{fLep} \foreach \k in {9,10,11} {\ch{lSpi}{fLep}{\k}{6}}

% single small phyla
\nd{pArm}{6.5}{2} \ed{lArm}{kB}{pArm} \ch{lArm}{pArm}{6}{3} \ch{lArm}{pArm}{7}{3}
\ch{lIgn}{kB}{5}{2}
\ch{lSac}{kB}{4}{2}
\ch{lNit}{kB}{3}{2}
\ch{lUnk}{kB}{2}{2}
\ed{lThm}{kA}{t1}

% root
\ed{lBlk}{root}{kA}
\ed{lBlk}{root}{kB}

% legend
\node[legtitle,anchor=mid west] (legT) at (795,392) {Phylum};
\foreach \nm/\cl [count=\k from 0] in {Acidobacteria/cAci,Actinobacteria/cAct,Armatimonadetes/cArm,Bacteroidetes/cBac,Candidatus_Saccharibacteria/cSac,Chlamydiae/cChl,Chloroflexi/cClx,Firmicutes/cFir,Ignavibacteriae/cIgn,Nitrospirae/cNit,Planctomycetes/cPla,Proteobacteria/cPro,Spirochaetes/cSpi,Thaumarchaeota/cThm,un_k__Bacteria/cUnk,Verrucomicrobia/cVer}{
  \draw[draw=\cl,line width=6.2pt,line cap=round] (799.5,{344-46.1*\k}) -- (835.5,{344-46.1*\k});
  \node[legtext,anchor=mid west] (leg\k) at (856,{344-46.1*\k}) {\nm};
}
\end{tikzpicture}
\end{document}
